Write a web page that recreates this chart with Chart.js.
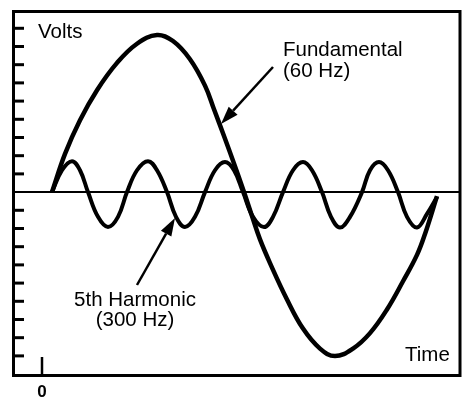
<!DOCTYPE html>
<html>
<head>
<meta charset="utf-8">
<script src="https://cdn.jsdelivr.net/npm/chart.js@4.4.1/dist/chart.umd.min.js"></script>
<style>
  html, body { margin: 0; padding: 0; background: #fff; }
  #wrap { width: 474px; height: 406px; position: relative; }
</style>
</head>
<body>
<div id="wrap"><canvas id="waves"></canvas></div>
<script>
// time axis is in arbitrary units, 0 = the "0" tick
const fundTime  = [10, 23, 38, 55, 75, 95, 115, 131, 148, 163, 172, 182, 192, 202, 210, 218, 228, 245, 261, 278, 293, 311, 328, 345, 361, 375, 383, 395];
const fundVolts = [0, 2.1, 3.95, 5.6, 7.1, 8.15, 8.63, 8.3, 7.3, 5.85, 4.55, 3.08, 1.57, 0, -1.32, -2.6, -3.9, -5.9, -7.5, -8.6, -9.01, -8.6, -7.75, -6.45, -4.9, -3.45, -2.3, -0.22];

const harmTime  = [10, 20, 30, 38, 46, 56, 66, 76, 85, 95, 106, 115, 125, 134, 143, 153, 163, 173, 183, 192, 201, 211, 222, 231, 241, 251, 261, 270, 280, 289, 298, 308, 320, 328, 337, 346, 356, 365, 375, 385, 395];
const harmVolts = [0, 1.2, 1.70, 1.2, 0, -1.36, -1.92, -1.36, 0, 1.2, 1.70, 1.2, 0, -1.36, -1.92, -1.36, 0, 1.2, 1.65, 1.2, 0, -1.36, -1.92, -1.36, 0, 1.2, 1.65, 1.2, 0, -1.36, -1.95, -1.36, 0, 1.2, 1.65, 1.2, 0, -1.36, -1.95, -1.2, -0.27];

const voltTicks = [-9, -8, -7, -6, -5, -4, -3, -2, -1, 1, 2, 3, 4, 5, 6, 7, 8, 9];
const timeTicks = [0];

const FONT = '"Liberation Sans", Arial, sans-serif';

function toPoints(xs, ys) {
    return xs.map((x, i) => ({ x: x, y: ys[i] }));
}

// draws an arrow with a filled head at (x2, y2)
function arrow(ctx, x1, y1, x2, y2) {
    const ang = Math.atan2(y2 - y1, x2 - x1);
    const len = 18, half = 6;
    const bx = x2 - Math.cos(ang) * len, by = y2 - Math.sin(ang) * len;
    ctx.beginPath();
    ctx.moveTo(x1, y1);
    ctx.lineTo(bx, by);
    ctx.lineWidth = 2.5;
    ctx.stroke();
    ctx.beginPath();
    ctx.moveTo(x2, y2);
    ctx.lineTo(bx - Math.sin(ang) * half, by + Math.cos(ang) * half);
    ctx.lineTo(bx + Math.sin(ang) * half, by - Math.cos(ang) * half);
    ctx.closePath();
    ctx.fill();
}

const zeroLine = {
    id: 'zeroLine',
    beforeDatasetsDraw(chart) {
        const { ctx, chartArea, scales } = chart;
        const y0 = scales.y.getPixelForValue(0);
        ctx.save();
        ctx.strokeStyle = '#000';
        ctx.lineWidth = 2;
        ctx.beginPath();
        ctx.moveTo(chartArea.left, y0);
        ctx.lineTo(chartArea.right, y0);
        ctx.stroke();
        ctx.restore();
    }
};

const frameAndNotes = {
    id: 'frameAndNotes',
    afterDraw(chart) {
        const { ctx, chartArea: a, scales } = chart;
        ctx.save();
        ctx.strokeStyle = '#000';
        ctx.fillStyle = '#000';

        // box
        ctx.lineWidth = 3;
        ctx.strokeRect(a.left + 1.5, a.top + 0.5, a.right - a.left - 1.5, a.bottom - a.top);

        // inward volt ticks
        voltTicks.forEach(v => {
            const y = scales.y.getPixelForValue(v);
            ctx.beginPath();
            ctx.moveTo(a.left, y);
            ctx.lineTo(a.left + 12, y);
            ctx.stroke();
        });

        // time tick and its label
        ctx.lineWidth = 2.5;
        timeTicks.forEach(t => {
            const x = scales.x.getPixelForValue(t);
            ctx.beginPath();
            ctx.moveTo(x, a.bottom);
            ctx.lineTo(x, a.bottom - 18);
            ctx.stroke();
            ctx.font = 'bold 17px ' + FONT;
            ctx.textAlign = 'center';
            ctx.textBaseline = 'alphabetic';
            ctx.fillText(String(t), x, a.bottom + 22);
        });

        // labels
        ctx.font = '20.5px ' + FONT;
        ctx.textAlign = 'left';
        ctx.fillText('Volts', 38, 38);
        ctx.fillText('Fundamental', 283, 56);
        ctx.fillText('(60 Hz)', 283, 77);
        ctx.fillText('Time', 405, 361);
        ctx.textAlign = 'center';
        ctx.fillText('5th Harmonic', 135, 306);
        ctx.fillText('(300 Hz)', 135, 326);

        arrow(ctx, 273, 67, 221, 124);
        arrow(ctx, 137, 285, 175, 218);
        ctx.restore();
    }
};

const ctx = document.getElementById('waves').getContext('2d');
new Chart(ctx, {
    type: 'line',
    data: {
        datasets: [{
            label: 'Fundamental (60 Hz)',
            data: toPoints(fundTime, fundVolts),
            borderColor: '#000',
            borderWidth: 4.5,
            pointRadius: 0,
            tension: 0.4
        }, {
            label: '5th Harmonic (300 Hz)',
            data: toPoints(harmTime, harmVolts),
            borderColor: '#000',
            borderWidth: 4,
            pointRadius: 0,
            tension: 0.4
        }]
    },
    options: {
        responsive: true,
        maintainAspectRatio: false,
        animation: false,
        layout: { padding: { left: 12, top: 11, right: 14, bottom: 31 } },
        scales: {
            x: { type: 'linear', min: -30, max: 418, display: false },
            y: { min: -10.05, max: 9.95, display: false }
        },
        plugins: {
            legend: { display: false },
            tooltip: { enabled: false }
        }
    },
    plugins: [zeroLine, frameAndNotes]
});
</script>
</body>
</html>
